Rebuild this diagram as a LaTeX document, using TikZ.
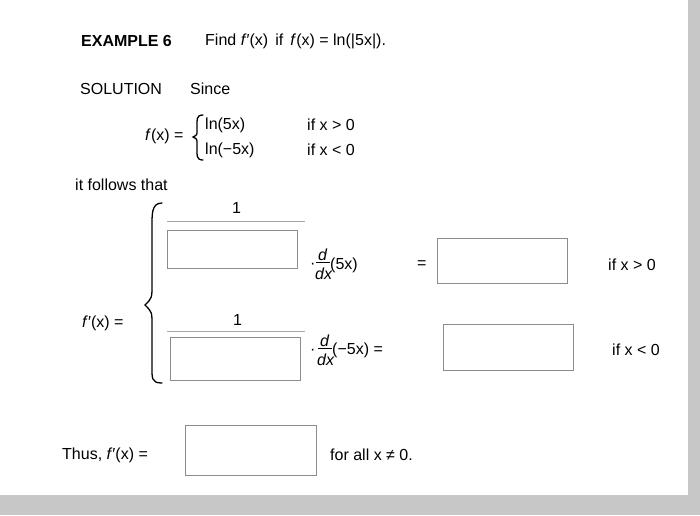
\documentclass[tikz,border=0pt]{standalone}
\usepackage{fontspec}
\setmainfont{Liberation Sans}
\begin{document}
\begin{tikzpicture}[x=1pt,y=-1pt,
  every node/.style={font=\fontsize{16}{19}\selectfont,inner sep=0pt,anchor=west},
  ans/.style={draw=black!45,line width=0.8pt,fill=white},
  brace/.style={line width=1.3pt,line cap=round}]
\useasboundingbox (0,0) rectangle (700,515);
\fill[black!22] (0,0) rectangle (700,515);
\fill[white] (0,0) rectangle (688,495);
\node (ex) at (81,41) {\textbf{EXAMPLE 6}};
\node (find) at (205,41) {Find \textit{f}′(x)\, if\, \textit{f}(x) = ln(|5x|).};
\node (sol) at (80,89) {SOLUTION};
\node (since) at (190,89) {Since};
\node (fx) at (145,136) {\textit{f}(x) =};
\draw[brace] (203,115) .. controls (196,115) and (197,120) .. (197,127) -- (197,131) .. controls (197,135) .. (193,137) .. controls (197,139) .. (197,143) -- (197,148) .. controls (197,155) and (196,160) .. (203,160);
\node (l1) at (205,125) {ln(5x)};
\node (l2) at (205,150) {ln(−5x)};
\node (c1) at (307,125) {if x > 0};
\node (c2) at (307,150) {if x < 0};
\node (follow) at (75,185) {it follows that};
\draw[brace] (162,203) .. controls (151,203) and (152,215) .. (152,230) -- (152,285) .. controls (152,298) .. (145,305) .. controls (152,312) .. (152,325) -- (152,365) .. controls (152,378) and (151,383) .. (162,383);
\node (fp) at (82,323) {\textit{f}′(x) =};
\node (one1) at (232,208) {1};
\draw[black!35,line width=0.8pt] (167,221) -- (305,221);
\draw[ans] (167,230) rectangle (297,268);
\node (dot1) at (310,266) {·};
\node (dd1) at (318,255) {\textit{d}};
\draw[line width=0.6pt] (316,262) -- (330,262);
\node (dx1) at (315,274) {\textit{dx}};
\node (a1) at (330,265) {(5x)};
\node (eq1) at (417,265) {=};
\draw[ans] (437,238) rectangle (567,283);
\node (i1) at (608,265) {if x > 0};
\node (one2) at (233,320) {1};
\draw[black!35,line width=0.8pt] (167,331) -- (305,331);
\draw[ans] (170,337) rectangle (300,380);
\node (dot2) at (310,352) {·};
\node (dd2) at (320,341) {\textit{d}};
\draw[line width=0.6pt] (318,348) -- (332,348);
\node (dx2) at (317,360) {\textit{dx}};
\node (a2) at (332,350) {(−5x) =};
\draw[ans] (443,324) rectangle (573,370);
\node (i2) at (612,350) {if x < 0};
\node (thus) at (62,455) {Thus, \textit{f}′(x) =};
\draw[ans] (185,425) rectangle (316,475);
\node (all) at (330,455) {for all x ≠ 0.};
\end{tikzpicture}
\end{document}
